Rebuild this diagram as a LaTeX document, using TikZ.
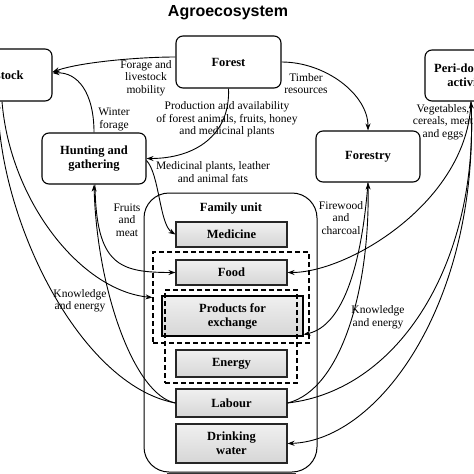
\documentclass[tikz,border=0pt]{standalone}
\usepackage{fontspec}
\setmainfont{Liberation Serif}
\newfontfamily\titlefont{Liberation Sans}
\usetikzlibrary{arrows.meta}
\begin{document}
\begin{tikzpicture}[x=1pt,y=-1pt,
  box/.style={draw, line width=1.1pt, rounded corners=7pt, font=\bfseries\fontsize{12.5}{14}\selectfont, align=center, inner sep=0pt},
  gbox/.style={draw=black!85, line width=1.1pt, top color=gray!12, bottom color=gray!32, font=\bfseries\fontsize{12.5}{14}\selectfont, align=center, inner sep=0pt, minimum width=111pt},
  dbox/.style={draw, dashed, dash pattern=on 5pt off 3pt, line width=1.1pt, inner sep=0pt},
  lab/.style={font=\fontsize{11.5}{12.5}\selectfont, align=center, inner sep=0pt},
  conn/.style={line width=0.9pt, -{Stealth[length=7pt,width=5pt]}}
]
\useasboundingbox (0,0) rectangle (474,474);
\fill[white] (0,0) rectangle (474,474);
\clip (0,0) rectangle (474,474);

\node[font=\titlefont\bfseries\fontsize{16}{18}\selectfont, anchor=base] (title) at (228,16) {Agroecosystem};

% top boxes
\node[box, minimum width=108pt, minimum height=52pt] (livestock) at (-2,75) {Livestock};
\node[box, minimum width=105pt, minimum height=52pt] (forest) at (228.5,62) {Forest};
\node[box, minimum width=92pt, minimum height=51pt] (peri) at (471,75.5) {Peri-domestic\\activities};
\node[box, minimum width=104pt, minimum height=51pt] (hunting) at (94,158.5) {Hunting and\\gathering};
\node[box, minimum width=104pt, minimum height=51pt] (forestry) at (368,156.5) {Forestry};

% family unit
\node[draw, line width=1pt, rounded corners=25pt, minimum width=173pt, minimum height=279pt, inner sep=0pt] (family) at (230.5,332.5) {};
\node[font=\bfseries\fontsize{12.5}{14}\selectfont, inner sep=0pt] (famlabel) at (231,209) {Family unit};
\fill[black!80] (167,472.5) rectangle (296,474.5);

\node[gbox, minimum height=25pt] (medicine) at (231.5,234.5) {Medicine};
\node[gbox, minimum height=25pt] (food) at (231.5,272.5) {Food};
\node[gbox, minimum width=141pt, minimum height=40pt, draw=black] (products) at (232.5,316) {Products for\\exchange};
\node[gbox, minimum height=27pt] (energy) at (231.5,363.5) {Energy};
\node[gbox, minimum height=28pt] (labour) at (231.5,403) {Labour};
\node[gbox, minimum height=39pt] (water) at (231.5,443.5) {Drinking\\water};

\node[dbox, minimum width=156pt, minimum height=91pt] (outer) at (231,297.5) {};
\node[dbox, minimum width=132pt, minimum height=93pt] (inner) at (231,336.5) {};

% connectors
\draw[conn] ([yshift=5pt]forest.west) .. controls +(-36,0) and +(28,-10) .. ([yshift=3pt]livestock.east);
\draw[conn] (hunting.north) .. controls +(0,-40) and +(25,-1) .. ([yshift=2pt]livestock.east);
\draw[conn] (forest.south) .. controls +(2,47) and +(48,0) .. (hunting.east);
\draw[conn] (forest.east) .. controls +(44,0) and +(0,-36) .. (forestry.north);
\draw[conn] ([yshift=-2pt]hunting.east) .. controls +(13,14) and +(-16,-10) .. (medicine.west);
\draw[conn] ([xshift=1pt]hunting.south) .. controls +(1,81) and +(-56,0) .. (food.west);
\draw[conn] (labour.west) .. controls +(-41,-8) and +(3,106) .. (hunting.south);
\draw[conn] (labour.west) .. controls +(-96,-18) and +(2,119) .. (livestock.south);
\draw[conn] ([xshift=4pt]livestock.south) .. controls +(8,99) and +(-72,-7) .. (outer.west);
\draw[conn] (forestry.south) .. controls +(-6,78) and +(41,-9) .. ([yshift=2pt]products.south east);
\draw[conn] (labour.east) .. controls +(53,-13) and +(2,108) .. (forestry.south);
\draw[conn] (peri.south) .. controls +(-3,99) and +(62,0) .. (food.east);
\draw[conn] (labour.east) .. controls +(113,-13) and +(7,159) .. (peri.south);
\draw[conn] (peri.south) .. controls +(9,199) and +(92,-3) .. (water.east);

% labels
\node[lab] (l1) at (146,78) {Forage and\\livestock\\mobility};
\node[lab] (l2) at (114,119.5) {Winter\\forage};
\node[lab] (l3) at (227,119.5) {Production and availability\\of forest animals, fruits, honey\\and medicinal plants};
\node[lab] (l4) at (306,83.5) {Timber\\resources};
\node[lab] (l5) at (443,122) {Vegetables,\\cereals, meat\\and eggs};
\node[lab] (l6) at (213,172) {Medicinal plants, leather\\and animal fats};
\node[lab] (l7) at (127,220) {Fruits\\and\\meat};
\node[lab] (l8) at (341,218) {Firewood\\and\\charcoal};
\node[lab] (l9) at (80,300.5) {Knowledge\\and energy};
\node[lab] (l10) at (378,317) {Knowledge\\and energy};
\end{tikzpicture}
\end{document}
